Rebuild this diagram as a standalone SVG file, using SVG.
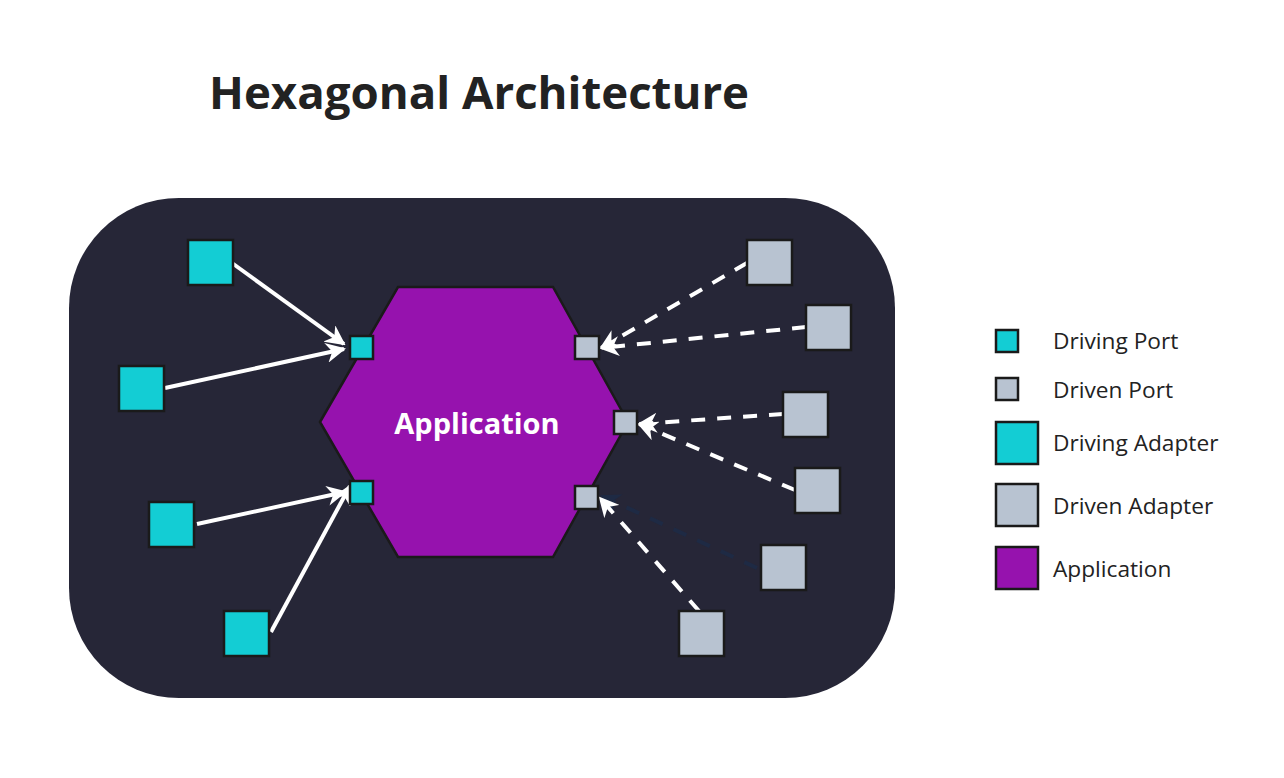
<svg xmlns="http://www.w3.org/2000/svg" width="1284" height="778" viewBox="0 0 1284 778">
<style>
.t{font-family:"Open Sans","Liberation Sans",sans-serif;fill:#222}
.dr{fill:#13cdd4;stroke:#1a1a1a;stroke-width:2.5}
.dn{fill:#b8c3d1;stroke:#1a1a1a;stroke-width:2.5}
.s{stroke:#fff;stroke-width:4;fill:none}
.d{stroke:#fff;stroke-width:4;fill:none;stroke-dasharray:14 12}
</style>
<defs>
<marker id="a" viewBox="0 0 10 10" refX="9" refY="5" markerWidth="5" markerHeight="5" orient="auto" markerUnits="strokeWidth"><path d="M0,0 L10,5 L0,10 L3,5 z" fill="#fff"/></marker>
<marker id="ad" viewBox="0 0 10 10" refX="9" refY="5" markerWidth="5" markerHeight="5" orient="auto" markerUnits="strokeWidth"><path d="M0,0 L10,5 L0,10 L3,5 z" fill="#1e2a44"/></marker>
</defs>
<rect width="1284" height="778" fill="#fff"/>
<text class="t" x="209" y="109" font-size="45.6" font-weight="bold">Hexagonal Architecture</text>
<rect x="69" y="198" width="826" height="500" rx="110" fill="#262637"/>
<g id="app"><polygon points="320,422 398,287 553,287 628,422 553,557 398,557" fill="#9612ae" stroke="#1a1a1a" stroke-width="2.5"/>
<text x="477" y="434" font-size="29" font-weight="bold" fill="#fff" text-anchor="middle" font-family="Open Sans,Liberation Sans,sans-serif">Application</text></g>
<g id="connectors">
<line class="s" x1="232" y1="263" x2="344" y2="344" marker-end="url(#a)"/>
<line class="s" x1="165" y1="388" x2="344" y2="349" marker-end="url(#a)"/>
<line class="s" x1="197" y1="524" x2="345" y2="492" marker-end="url(#a)"/>
<line class="s" x1="271" y1="632" x2="350" y2="486" marker-end="url(#a)"/>
<line class="d" x1="747" y1="263" x2="601" y2="348" marker-end="url(#a)"/>
<line class="d" x1="806" y1="327" x2="601" y2="348" marker-end="url(#a)"/>
<line class="d" x1="783" y1="414" x2="639" y2="424" marker-end="url(#a)"/>
<line class="d" x1="795" y1="490" x2="639" y2="424" marker-end="url(#a)"/>
<line x1="757" y1="568" x2="602" y2="496" stroke="#1e2a44" stroke-width="4" stroke-dasharray="14 12" marker-end="url(#ad)"/>
<line class="d" x1="699" y1="611" x2="600" y2="498" marker-end="url(#a)"/>
</g>
<g id="ports">
<rect class="dr" x="350" y="336" width="23" height="23"/>
<rect class="dr" x="350" y="481" width="23" height="23"/>
<rect class="dn" x="575" y="336" width="24" height="23"/>
<rect class="dn" x="614" y="411" width="23" height="23"/>
<rect class="dn" x="575" y="486" width="23" height="23"/>
</g>
<g id="adapters">
<rect class="dr" x="188" y="240" width="45" height="45"/>
<rect class="dr" x="119" y="366" width="45" height="45"/>
<rect class="dr" x="149" y="502" width="45" height="45"/>
<rect class="dr" x="224" y="611" width="45" height="45"/>
<rect class="dn" x="747" y="240" width="45" height="45"/>
<rect class="dn" x="806" y="305" width="45" height="45"/>
<rect class="dn" x="783" y="392" width="45" height="45"/>
<rect class="dn" x="795" y="468" width="45" height="45"/>
<rect class="dn" x="761" y="545" width="45" height="45"/>
<rect class="dn" x="679" y="611" width="45" height="45"/>
</g>
<g id="legend">
<rect class="dr" x="996" y="330" width="22" height="22"/>
<rect class="dn" x="996" y="378" width="22" height="22"/>
<rect class="dr" x="996" y="422" width="42" height="42"/>
<rect class="dn" x="996" y="484" width="42" height="42"/>
<rect x="996" y="547" width="42" height="42" fill="#9612ae" stroke="#1a1a1a" stroke-width="2.5"/>
<text class="t" x="1053" y="349" font-size="22.7">Driving Port</text>
<text class="t" x="1053" y="398" font-size="22.7">Driven Port</text>
<text class="t" x="1053" y="451" font-size="22.7">Driving Adapter</text>
<text class="t" x="1053" y="514" font-size="22.7">Driven Adapter</text>
<text class="t" x="1053" y="577" font-size="22.7">Application</text>
</g>
</svg>
